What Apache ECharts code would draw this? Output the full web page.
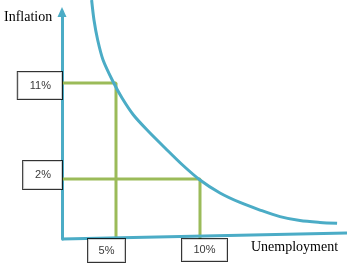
<!DOCTYPE html>
<html><head><meta charset="utf-8">
<script src="https://cdn.jsdelivr.net/npm/echarts@6/dist/echarts.min.js"></script>
<style>html,body{margin:0;padding:0;background:#fff}#c{width:347px;height:267px}</style>
</head><body><div id="c"></div>
<script>
// Phillips curve (schematic), unemployment % vs inflation %
const curveUnemp = [3.55, 3.69, 3.91, 4.23, 4.82, 5.36, 6.04, 6.91, 7.92, 8.93, 10.0, 11.19, 12.38, 13.57, 14.76, 15.95, 17.14, 18.16];
const curveInfl  = [18.78, 16.91, 15.03, 13.16, 11.14, 9.59, 8.00, 6.50, 4.91, 3.36, 1.91, 0.69, -0.20, -0.91, -1.53, -1.90, -2.07, -2.15];
const pointUnemp = [5, 10];
const pointInfl  = [11, 2];
const unempLabels = ['5%', '10%'];
const inflLabels  = ['11%', '2%'];

const xMin = 1.786, xMax = 18.75, yMin = -3.625, yMax = 17.656;
const axisTilt = 0.56;
const blue = '#4bacc6', green = '#9bbb59';

const chart = echarts.init(document.getElementById('c'), null, {renderer: 'canvas'});
const curve = curveUnemp.map((u, i) => [u, curveInfl[i]]);
const guides = pointUnemp.map((u, i) => ({
  type: 'line', data: [[xMin, pointInfl[i]], [u, pointInfl[i]], [u, yMin]],
  symbol: 'none', clip: false, lineStyle: {color: green, width: 3}, z: 2, silent: true
}));
const boxBase = {backgroundColor: '#fff', borderColor: '#000', borderWidth: 1,
  fontFamily: 'Liberation Sans', fontSize: 11, lineHeight: 13, color: '#000'};
const yBoxStyle = [{padding: [7, 11, 7, 12], offset: [0, 2.5]}, {padding: [7.5, 11, 7.5, 12], offset: [0, -4]}];
const xBoxStyle = [{padding: [5, 10.5, 5, 10.5], offset: [-9.5, 0]}, {padding: [4.5, 11.5, 4.5, 11.5], offset: [4.5, 0]}];

chart.setOption({
  animation: false,
  grid: {left: 62, right: 0, top: 12, bottom: 28},
  title: [
    {text: 'Inflation', left: 4, top: 10, padding: 0,
     textStyle: {fontFamily: 'Liberation Serif', fontSize: 14, fontWeight: 'normal', color: '#000'}},
    {text: 'Unemployment', left: 251, top: 240, padding: 0,
     textStyle: {fontFamily: 'Liberation Serif', fontSize: 14, fontWeight: 'normal', color: '#000'}}
  ],
  xAxis: {type: 'value', min: xMin, max: xMax, show: false},
  yAxis: {type: 'value', min: yMin, max: yMax, splitLine: {show: false},
    axisLabel: {show: false}, axisTick: {show: false},
    axisLine: {show: true, lineStyle: {color: blue, width: 3}, symbol: ['none', 'triangle'], symbolSize: [9, 10]}},
  series: [
    ...guides,
    {type: 'line', data: [[xMin, yMin], [xMax, yMin + axisTilt]], symbol: 'none', clip: false,
     lineStyle: {color: blue, width: 3}, z: 3, silent: true},
    {type: 'line', data: curve, smooth: 0.3, symbol: 'none', clip: false,
     lineStyle: {color: blue, width: 3}, z: 4, silent: true},
    {type: 'scatter', symbolSize: 0, z: 6, clip: false,
     data: inflLabels.map((t, i) => ({value: [xMin, pointInfl[i]],
       label: Object.assign({show: true, position: 'left', distance: 0, formatter: t}, boxBase, yBoxStyle[i])}))},
    {type: 'scatter', symbolSize: 0, z: 6, clip: false,
     data: unempLabels.map((t, i) => ({value: [pointUnemp[i], yMin],
       label: Object.assign({show: true, position: 'bottom', distance: 0, formatter: t}, boxBase, xBoxStyle[i])}))}
  ]
});
</script></body></html>
